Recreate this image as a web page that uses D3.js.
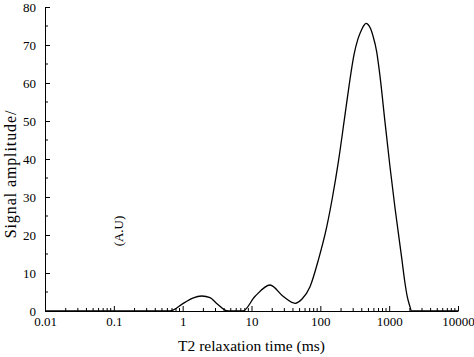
<!DOCTYPE html>
<html>
<head>
<meta charset="utf-8">
<script src="https://cdn.jsdelivr.net/npm/d3@7"></script>
<style>
  body { margin: 0; background: #fff; }
  text { font-family: "Liberation Serif", "Times New Roman", serif; }
</style>
</head>
<body>
<div id="chart"></div>
<script>
// T2 spectrum
const t2 = [0.01, 0.65, 1.02, 1.4, 1.9, 2.5, 3.12, 4.56, 7.5, 11.2, 18.6, 29, 43,
  54.2, 70.8, 93.5, 124, 150.3, 182.5, 225, 261, 308, 352, 399, 431, 461, 493, 540,
  582, 659, 736, 870, 1029, 1216, 1522, 1699, 1835, 2010, 2099, 10000];
const amp = [0, 0, 2.0, 3.4, 3.95, 3.5, 2.0, 0, 0, 3.8, 6.84, 3.8, 2.03,
  3.16, 6.4, 13.4, 22.2, 30.0, 39.2, 50.8, 59.2, 67.4, 71.6, 74.1, 75.2, 75.7, 75.4, 74.2,
  72.4, 68.2, 61.8, 49.7, 37.9, 27.1, 13.9, 7.3, 3.7, 1.1, 0, 0];
const xTickVals = [0.01, 0.1, 1, 10, 100, 1000, 10000];
const yTickVals = [0, 10, 20, 30, 40, 50, 60, 70, 80];

const width = 474, height = 357;
const plotLeft = 45, plotRight = 458, plotTop = 7, plotBottom = 311;

const x = d3.scaleLog().domain([0.01, 10000]).range([plotLeft, plotRight]);
const y = d3.scaleLinear().domain([0, 80]).range([plotBottom, plotTop]);

const svg = d3.select("#chart").append("svg")
  .attr("width", width)
  .attr("height", height);

// minor ticks on x (2..9 each decade)
let minorX = [];
for (let d = 0.01; d < 10000; d *= 10)
  for (let k = 2; k <= 9; k++) minorX.push(d * k);

const xAxis = d3.axisBottom(x).tickValues(xTickVals)
  .tickFormat(d => String(d)).tickSizeInner(-5).tickSizeOuter(0).tickPadding(6);
const gx = svg.append("g").attr("transform", `translate(0,${plotBottom})`).call(xAxis);
gx.attr("font-family", null);
gx.selectAll("text").attr("font-size", 13).attr("fill", "#000");
gx.select(".domain").attr("stroke", "#000");
gx.selectAll(".tick line").attr("stroke", "#000");
gx.selectAll(".minor").data(minorX).join("line")
  .attr("class", "minor")
  .attr("x1", d => x(d)).attr("x2", d => x(d))
  .attr("y1", 0).attr("y2", -3)
  .attr("stroke", "#000");

// y axis with minor ticks every 5
const yAxis = d3.axisLeft(y).tickValues(yTickVals)
  .tickSizeInner(-5).tickSizeOuter(0).tickPadding(9);
const gy = svg.append("g").attr("transform", `translate(${plotLeft},0)`).call(yAxis);
gy.attr("font-family", null);
gy.selectAll("text").attr("font-size", 13).attr("fill", "#000");
gy.select(".domain").attr("stroke", "#000");
gy.selectAll(".tick line").attr("stroke", "#000");
gy.selectAll(".minor").data(d3.range(5, 80, 10)).join("line")
  .attr("class", "minor")
  .attr("x1", 0).attr("x2", 3)
  .attr("y1", d => y(d)).attr("y2", d => y(d))
  .attr("stroke", "#000");

// curve
const pts = t2.map((t, i) => [t, amp[i]]);
const line = d3.line()
  .x(d => x(d[0]))
  .y(d => y(d[1]))
  .curve(d3.curveMonotoneX);
svg.append("path")
  .datum(pts)
  .attr("d", line)
  .attr("fill", "none")
  .attr("stroke", "#000")
  .attr("stroke-width", 1.3);

// labels
svg.append("text")
  .attr("x", (plotLeft + plotRight) / 2)
  .attr("y", 351)
  .attr("text-anchor", "middle")
  .attr("font-size", 15.5)
  .text("T2 relaxation time (ms)");

svg.append("text")
  .attr("transform", "translate(16,174) rotate(-90)")
  .attr("text-anchor", "middle")
  .attr("font-size", 16)
  .attr("letter-spacing", 0.9)
  .text("Signal amplitude/");

svg.append("text")
  .attr("transform", "translate(123,231) rotate(-90)")
  .attr("text-anchor", "middle")
  .attr("font-size", 13)
  .text("(A.U)");
</script>
</body>
</html>
